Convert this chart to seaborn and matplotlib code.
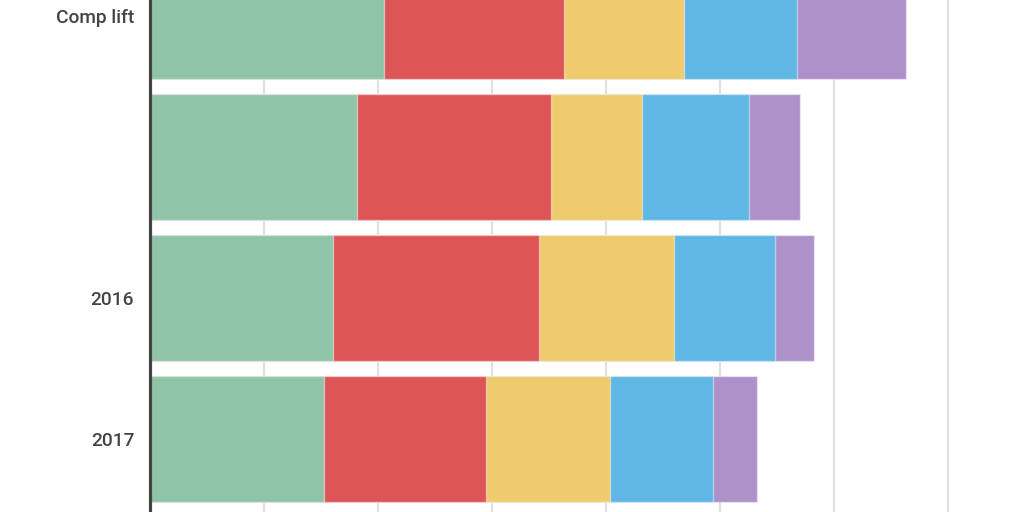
import matplotlib
matplotlib.use("Agg")
import matplotlib.pyplot as plt
import seaborn as sns
import numpy as np

categories = ["Comp lift", " ", "2016", "2017"]
series_names = ["A", "B", "C", "D", "E"]
s1 = [20.6, 18.2, 16.1, 15.3]
s2 = [15.8, 17.0, 18.1, 14.2]
s3 = [10.5, 8.0, 11.8, 10.9]
s4 = [9.9, 9.4, 8.9, 9.0]
s5 = [9.6, 4.5, 3.4, 3.9]
series = [s1, s2, s3, s4, s5]
colors = ["#8fc4a8", "#dd5456", "#efcb6d", "#60b6e4", "#ad91c8"]

sns.set_theme(style="white")
plt.rcParams['font.family'] = ['Roboto', 'DejaVu Sans']

fig = plt.figure(figsize=(10.24, 5.12), dpi=100)
ax = fig.add_axes([149.5 / 1024, 0, 1 - 149.5 / 1024, 1])

cum = np.cumsum(np.array(series), axis=0)
for i in range(len(series) - 1, -1, -1):
    sns.barplot(x=cum[i], y=categories, orient="h", color=colors[i],
                width=0.894, saturation=1, edgecolor=(1, 1, 1, 0.45),
                linewidth=1, ax=ax, zorder=2)

ax.set_xlim(0, (1024 - 149.5) / 11.4)
ax.set_ylim(3.518, -0.1135)
ax.set_xticks(np.arange(0, 80, 10))
ax.set_xticklabels([])
ax.grid(axis="x", color="#dedede", linewidth=1.5, zorder=0)
ax.grid(axis="y", visible=False)
ax.set_axisbelow(True)
for s in ["top", "right", "bottom"]:
    ax.spines[s].set_visible(False)
ax.spines["left"].set_color("#444444")
ax.spines["left"].set_linewidth(2.3)
ax.spines["left"].set_zorder(5)
ax.tick_params(axis="y", length=0, pad=11, labelsize=13.8, labelcolor="#444444")
ax.tick_params(axis="x", length=0)
ax.set_xlabel("")
ax.set_ylabel("")
for lab in ax.get_yticklabels():
    lab.set_fontweight("medium")

fig.savefig("out.png", dpi=100)
